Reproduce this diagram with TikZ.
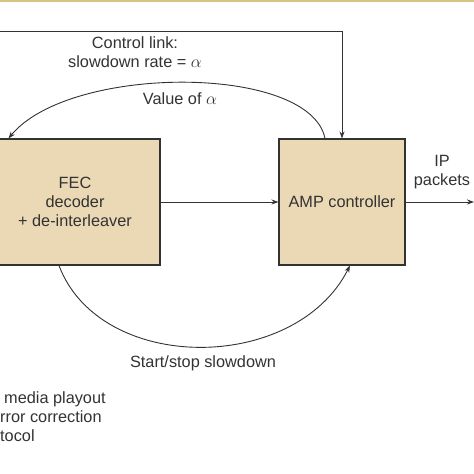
\documentclass[tikz,border=0pt]{standalone}
\usepackage{fontspec}
\setmainfont{Liberation Sans}
\usetikzlibrary{arrows.meta}
\definecolor{boxfill}{HTML}{EBD9B5}
\definecolor{bargold}{HTML}{D9C384}
\definecolor{ink}{HTML}{333333}

\begin{document}
\begin{tikzpicture}[x=1pt,y=1pt,
    font=\fontsize{16.3}{19}\selectfont,
    block/.style={draw=ink,line width=1.1pt,fill=boxfill,text=ink,
      minimum height=126pt,align=center,inner sep=0pt},
    link/.style={draw=ink,line width=0.9pt,-{Stealth[length=7pt,width=5pt]}},
    lbl/.style={text=ink,align=center,inner sep=0pt}]
  \clip(0,0)rectangle(474,474);
  \fill[white](0,0)rectangle(474,474);
  \fill[bargold](0,472)rectangle(474,474);
  % blocks
  \node[block,minimum width=170pt](fec)at(75,272){FEC\\decoder\\+ de-interleaver};
  \node[block,minimum width=126pt](amp)at(342,272){AMP controller};
  \coordinate(out)at(474,272);
  \coordinate(ctl)at(-5,443);
  % links
  \draw[link](fec.east)--(amp.west);
  \draw[link](amp.east)--(out);
  \draw[link](ctl)-|(amp.north);
  \draw[link]([xshift=-17pt]amp.north)..controls(310,410)and(70,410)..([xshift=19pt]fec.north west);
  \draw[link]([xshift=-16pt]fec.south)..controls(100,100)and(295,100)..([xshift=8pt]amp.south);
  % labels
  \node[lbl](ipl)at(442,301.5){IP\\packets};
  \node[lbl](ctll)at(135,422){Control link:\\slowdown rate = $\alpha$};
  \node[lbl](vall)at(180,375){Value of $\alpha$};
  \node[lbl](ssl)at(203,111){Start/stop slowdown};
  \node[lbl,align=left,anchor=west](note)at(0,57){\hspace{4pt}media playout\\rror correction\\tocol};
\end{tikzpicture}
\end{document}
